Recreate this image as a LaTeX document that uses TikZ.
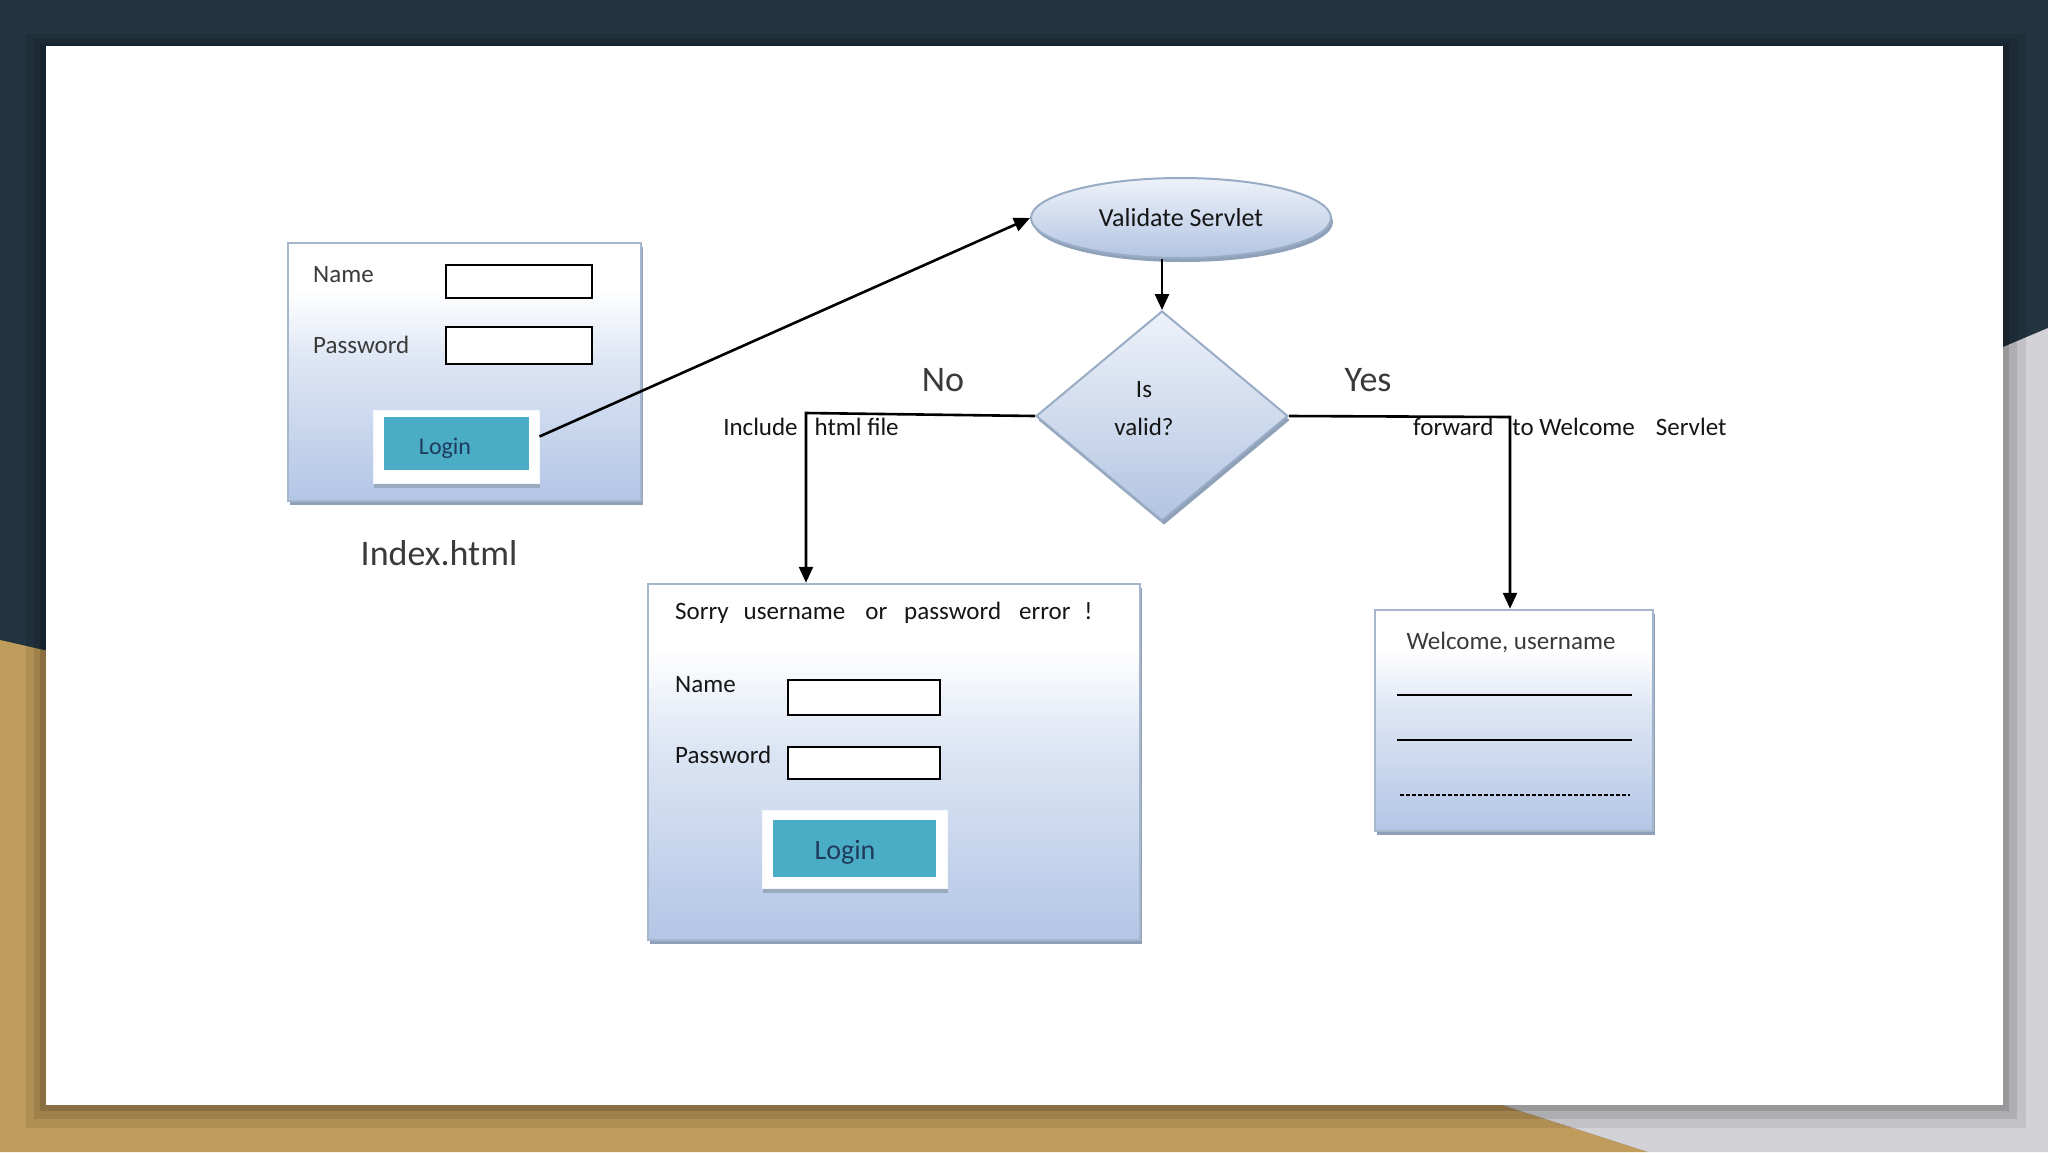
\documentclass[tikz,border=0pt]{standalone}
\usepackage{fontspec}
\setmainfont{Carlito}
\usetikzlibrary{arrows.meta,shapes.geometric,shadows}
\definecolor{bgnavy}{HTML}{22343F}
\definecolor{bgtan}{HTML}{BF9C5C}
\definecolor{bggray}{HTML}{D3D2D6}
\definecolor{boxblue}{HTML}{B3C6E6}
\colorlet{boxmid}{boxblue!45!white}
\definecolor{boxedge}{HTML}{A6B7CC}
\definecolor{boxshadow}{HTML}{8FA1B8}
\definecolor{shpblue}{HTML}{B2C4E2}
\definecolor{shptop}{HTML}{EEF2F9}
\definecolor{shpedge}{HTML}{98ACC6}
\definecolor{btnteal}{HTML}{4BACC6}
\definecolor{btntxt}{HTML}{1F3B5C}
\definecolor{btnshadow}{HTML}{9AABBF}
\definecolor{txtgray}{HTML}{3A3A3A}
\definecolor{txtdark}{HTML}{151515}
\pgfdeclareverticalshading{boxshade}{100bp}{color(0bp)=(boxblue); color(25bp)=(boxblue); color(52bp)=(boxmid); color(66bp)=(white); color(100bp)=(white)}
\pgfdeclareverticalshading{shapeshade}{100bp}{color(0bp)=(shpblue); color(25bp)=(shpblue); color(75bp)=(shptop); color(100bp)=(shptop)}
\begin{document}
\begin{tikzpicture}[x=1pt,y=-1pt,
  conn/.style={line width=2.6pt, draw=black},
  arr/.style={conn, -{Triangle[length=16pt,width=14pt]}},
  lbl/.style={font=\fontsize{25}{30}\selectfont, text=txtgray, inner sep=0pt},
  lblb/.style={font=\fontsize{25}{30}\selectfont, text=txtdark, inner sep=0pt},
  big/.style={font=\fontsize{36}{40}\selectfont, text=txtgray, inner sep=0pt},
  panelbox/.style={rectangle, draw=boxedge, line width=2.5pt, shading=boxshade, inner sep=0pt,
    drop shadow={shadow xshift=2pt, shadow yshift=-4pt, fill=boxshadow, opacity=1}},
  inbox/.style={rectangle, draw=black, line width=2.6pt, fill=white, inner sep=0pt},
  btnframe/.style={rectangle, fill=white, draw=white!85!boxblue, line width=1pt, inner sep=0pt,
    drop shadow={shadow xshift=1pt, shadow yshift=-5pt, fill=btnshadow, opacity=1}},
  btnface/.style={rectangle, fill=btnteal, inner sep=0pt},
  btntext/.style={inner sep=0pt, text=btntxt},
  shapebox/.style={draw=shpedge, line width=2pt, shading=shapeshade, inner sep=0pt,
    drop shadow={shadow xshift=2pt, shadow yshift=-4pt, fill=boxshadow, opacity=1}}
]
% ---------- background ----------
\useasboundingbox (0,0) rectangle (2048,1152);
\fill[bgnavy] (0,0) rectangle (2048,1152);
\fill[bgtan] (0,640) -- (700,800) -- (1502,1105) -- (1648,1152) -- (0,1152) -- cycle;
\fill[bggray] (2048,328) -- (1100,730) -- (1502,1105) -- (1648,1152) -- (2048,1152) -- cycle;
\fill[black, opacity=0.08] (26,34) rectangle (2026,1128);
\fill[black, opacity=0.10] (34,39) rectangle (2017,1119);
\fill[black, opacity=0.12] (40,43) rectangle (2009,1111);
\fill[white] (46,46) rectangle (2003,1105);

% ---------- Index.html ----------
\node[panelbox, minimum width=353, minimum height=258] (idx) at (464.5,372) {};
\node[lbl, anchor=west] (idxname) at (313,275) {Name};
\node[inbox, minimum width=146, minimum height=33] (idxnamein) at (519,281.5) {};
\node[lbl, anchor=west] (idxpw) at (313,345) {Password};
\node[inbox, minimum width=146, minimum height=37] (idxpwin) at (519,345.5) {};
\node[btnframe, minimum width=166, minimum height=73] (b1) at (456,446.5) {};
\node[btnface, minimum width=145, minimum height=53] (b1face) at (456.5,443.5) {};
\node[btntext, font=\fontsize{24}{28}\selectfont] (b1text) at (445,448) {Login};
\node[big] (idxlabel) at (439,553) {Index.html};

% ---------- Validate Servlet ----------
\node[ellipse, shapebox, minimum width=300, minimum height=80, text=txtdark, font=\fontsize{26}{30}\selectfont] (vs) at (1181,218) {Validate Servlet};

% ---------- decision ----------
\node[diamond, shapebox, minimum width=252, minimum height=210] (dia) at (1162,416) {};
\node[lblb, align=center, font=\fontsize{25}{38}\selectfont] (isvalid) at (1144,409) {Is\\valid?};

% ---------- Sorry page ----------
\node[panelbox, minimum width=492, minimum height=356] (sorry) at (894,762) {};
\node[lblb, anchor=west] (sorrytxt) at (675,613) {Sorry\hspace{15pt}username\hspace{20pt}or\hspace{17pt}password\hspace{18pt}error\hspace{14pt}!};
\node[lblb, anchor=west] (sname) at (675,685) {Name};
\node[inbox, minimum width=152, minimum height=35] (snamein) at (864,697.5) {};
\node[lblb, anchor=west] (spw) at (675,755) {Password};
\node[inbox, minimum width=152, minimum height=32] (spwin) at (864,763) {};
\node[btnframe, minimum width=185, minimum height=78] (b2) at (854.5,849) {};
\node[btnface, minimum width=163, minimum height=57] (b2face) at (854.5,848.5) {};
\node[btntext, font=\fontsize{28}{32}\selectfont] (b2text) at (845,852) {Login};

% ---------- Welcome page ----------
\node[panelbox, minimum width=278, minimum height=221] (welcome) at (1514,720.5) {};
\node[lbl] (welcometxt) at (1511,642) {Welcome, username};
\draw[line width=2.2pt] (1397,695) -- (1632,695);
\draw[line width=2.2pt] (1397,740) -- (1632,740);
\draw[line width=2.2pt, dash pattern=on 4pt off 2pt] (1400,795) -- (1630,795);

% ---------- connectors ----------
\coordinate (nocorner) at (806,413);
\coordinate (yescorner) at (1510,417);
\draw[arr] ([yshift=10pt]b1.east) -- (vs.west);
\draw[arr] (dia.north |- vs.south) -- (dia.north);
\draw[arr] (dia.west) -- (nocorner) -- (nocorner |- sorry.north);
\draw[arr] (dia.east) -- (yescorner) -- (yescorner |- welcome.north);

% ---------- connector labels ----------
\node[big] (nolbl) at (943,380) {No};
\node[big] (yeslbl) at (1368,380) {Yes};
\node[lblb] (inclbl) at (811,427) {Include\hspace{17pt}html file};
\node[lblb, anchor=west] (fwdlbl) at (1413,427) {forward\hspace{19pt}to Welcome\hspace{21pt}Servlet};
\end{tikzpicture}
\end{document}
